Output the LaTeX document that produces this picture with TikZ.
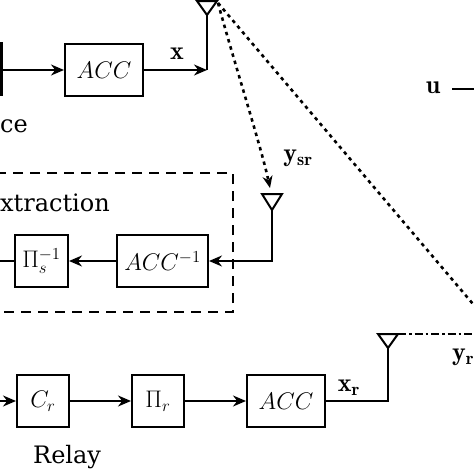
\RequirePackage{fix-cm}
\documentclass[tikz,border=0pt]{standalone}
\usepackage{fontspec}
\newfontfamily\lblfont{DejaVu Serif}
\usetikzlibrary{arrows.meta}
\begin{document}
\begin{tikzpicture}[x=1pt,y=-1pt,
  blk/.style={draw,line width=2pt,minimum height=52pt,inner sep=0pt,font=\fontsize{24}{28}\selectfont},
  arr/.style={line width=2pt,-{Stealth[length=13pt,width=11pt]}},
  ln/.style={line width=2pt},
  dotl/.style={line width=2.6pt,dash pattern=on 3.5pt off 4pt},
  lbl/.style={font=\fontsize{26}{30}\selectfont},
  txt/.style={font=\lblfont\fontsize{24}{28}\selectfont,inner sep=0pt,anchor=base west}]
\useasboundingbox (0,0) rectangle (474,474);
\clip (0,0) rectangle (474,474);
% blocks
\node[blk,minimum width=78pt] (acc) at (104,70) {$ACC$};
\node[blk,minimum width=91pt] (accinv) at (162.5,261) {$ACC^{-1}$};
\node[blk,minimum width=53pt] (pis) at (41.5,261) {$\Pi_s^{-1}$};
\node[blk,minimum width=52pt] (cr) at (43,401) {$C_r$};
\node[blk,minimum width=52pt] (pir) at (158,401) {$\Pi_r$};
\node[blk,minimum width=78pt] (accr) at (286,401) {$ACC$};
% antennas
\coordinate (a1) at (207,15);
\coordinate (a2) at (272,210);
\coordinate (a3) at (388,348);
\draw[ln] (a1) -- ++(-10,-14) -- ++(20,0) -- cycle;
\draw[ln] (a2) -- ++(-10,-16) -- ++(20,0) -- cycle;
\draw[ln] (a3) -- ++(-10,-14) -- ++(20,0) -- cycle;
% source
\coordinate (s1) at (1.5,42);
\coordinate (s2) at (1.5,96);
\draw[line width=3.2pt] (s1) -- (s2);
\coordinate (srcout) at (3,70);
\draw[arr] (srcout) -- (acc.west);
\coordinate (c1) at (207,70);
\draw[arr] (acc.east) -- (c1);
\draw[ln] (c1) -- (a1);
\node[lbl] (xl) at (177,54) {$\mathbf{x}$};
\node[txt] (src) at (0,132) {ce};
% links from source antenna
\coordinate (a1r) at (218,3);
\coordinate (rxa) at (270,188);
\coordinate (dst) at (484,317);
\draw[dotl,-{Stealth[length=12pt,width=10pt]}] (a1r) .. controls (235,65) and (262,150) .. (rxa);
\draw[dotl] (a1r) -- (dst);
\node[lbl] (ysr) at (298,158) {$\mathbf{y_{sr}}$};
% extraction
\draw[arr] (a2) |- (accinv.east);
\draw[arr] (accinv.west) -- (pis.east);
\coordinate (pisout) at (-5,261);
\draw[ln] (pis.west) -- (pisout);
\draw[ln,dash pattern=on 10pt off 7pt] (-10,173) rectangle (233,312);
\node[txt] (extr) at (0,211) {xtraction};
% relay
\coordinate (crin) at (-5,401);
\draw[arr] (crin) -- (cr.west);
\draw[arr] (cr) -- (pir);
\draw[arr] (pir) -- (accr);
\draw[ln] (accr.east) -| (a3);
\node[lbl] (xr) at (349,388) {$\mathbf{x_r}$};
\node[txt] (rel) at (33,463) {Relay};
\coordinate (a3r) at (398,334);
\coordinate (rdst) at (480,334);
\draw[line width=2pt,dash pattern=on 8pt off 3pt on 2.5pt off 3pt] (a3r) -- (rdst);
\node[lbl,anchor=west,inner sep=0pt] (yr) at (452,357) {$\mathbf{y_{r}}$};
% u
\node[lbl] (u) at (433,88) {$\mathbf{u}$};
\coordinate (ul) at (452,89);
\coordinate (ur) at (480,89);
\draw[ln] (ul) -- (ur);
\end{tikzpicture}
\end{document}
